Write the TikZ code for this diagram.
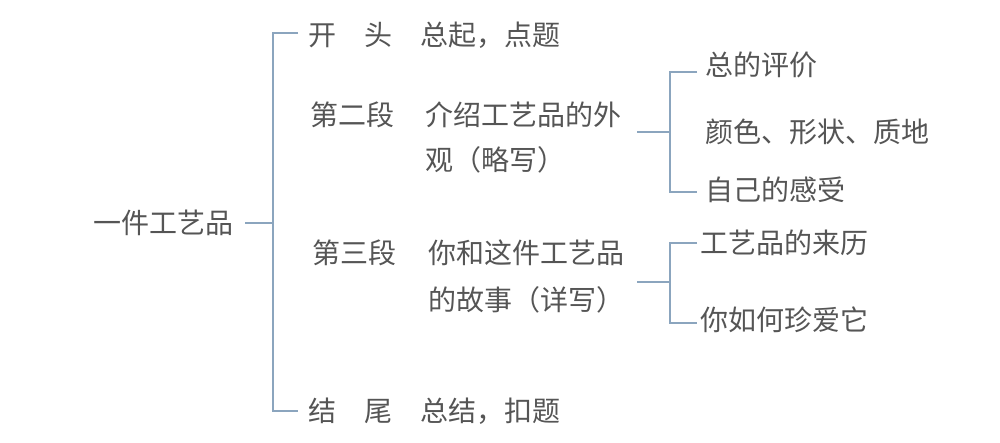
\documentclass[tikz,border=0pt]{standalone}
\usepackage{fontspec}
\newfontfamily\cjk{Noto Sans CJK SC}
\definecolor{txt}{HTML}{555555}
\definecolor{ln}{HTML}{8BA5BE}
\begin{document}
\begin{tikzpicture}[x=1pt,y=-1pt,
  lbl/.style={anchor=west,inner sep=0pt,text=txt,font=\cjk\fontsize{28}{34}\selectfont,text height=24.6pt,text depth=3.4pt},
  conn/.style={draw=ln,line width=2pt}]
\useasboundingbox[fill=white] (0,0) rectangle (1000,443);
% root
\node[lbl] (root) at (93,223) {一件工艺品};
% level 1
\node[lbl] (p1) at (308,35) {开\hspace{1em}头\hspace{1em}总起，点题};
\node[lbl] (p2) at (310,115) {第二段};
\node[lbl] (p2a) at (425,115) {介绍工艺品的外};
\node[lbl] (p2b) at (425,160) {观（略写）};
\node[lbl] (p3) at (312,253) {第三段};
\node[lbl] (p3a) at (428,253) {你和这件工艺品};
\node[lbl] (p3b) at (428,300) {的故事（详写）};
\node[lbl] (p4) at (308,411) {结\hspace{1em}尾\hspace{1em}总结，扣题};
% level 2
\node[lbl] (q1) at (705,65) {总的评价};
\node[lbl] (q2) at (705,132) {颜色、形状、质地};
\node[lbl] (q3) at (705,190) {自己的感受};
\node[lbl] (r1) at (700,243) {工艺品的来历};
\node[lbl] (r2) at (700,320) {你如何珍爱它};
% junctions
\coordinate (j0) at (245,223);
\coordinate (j1) at (273,223);
\coordinate (t1) at (298,33);
\coordinate (t4) at (298,411);
\coordinate (a0) at (637,132);
\coordinate (a1) at (670,132);
\coordinate (ta) at (697,72);
\coordinate (tb) at (697,192);
\coordinate (b0) at (637,282);
\coordinate (b1) at (670,282);
\coordinate (tc) at (697,243);
\coordinate (td) at (697,323);
\draw[conn] (j0) -- (j1);
\draw[conn] (t1) -| (j1) |- (t4);
\draw[conn] (a0) -- (a1);
\draw[conn] (ta) -| (a1) |- (tb);
\draw[conn] (b0) -- (b1);
\draw[conn] (tc) -| (b1) |- (td);
\end{tikzpicture}
\end{document}
